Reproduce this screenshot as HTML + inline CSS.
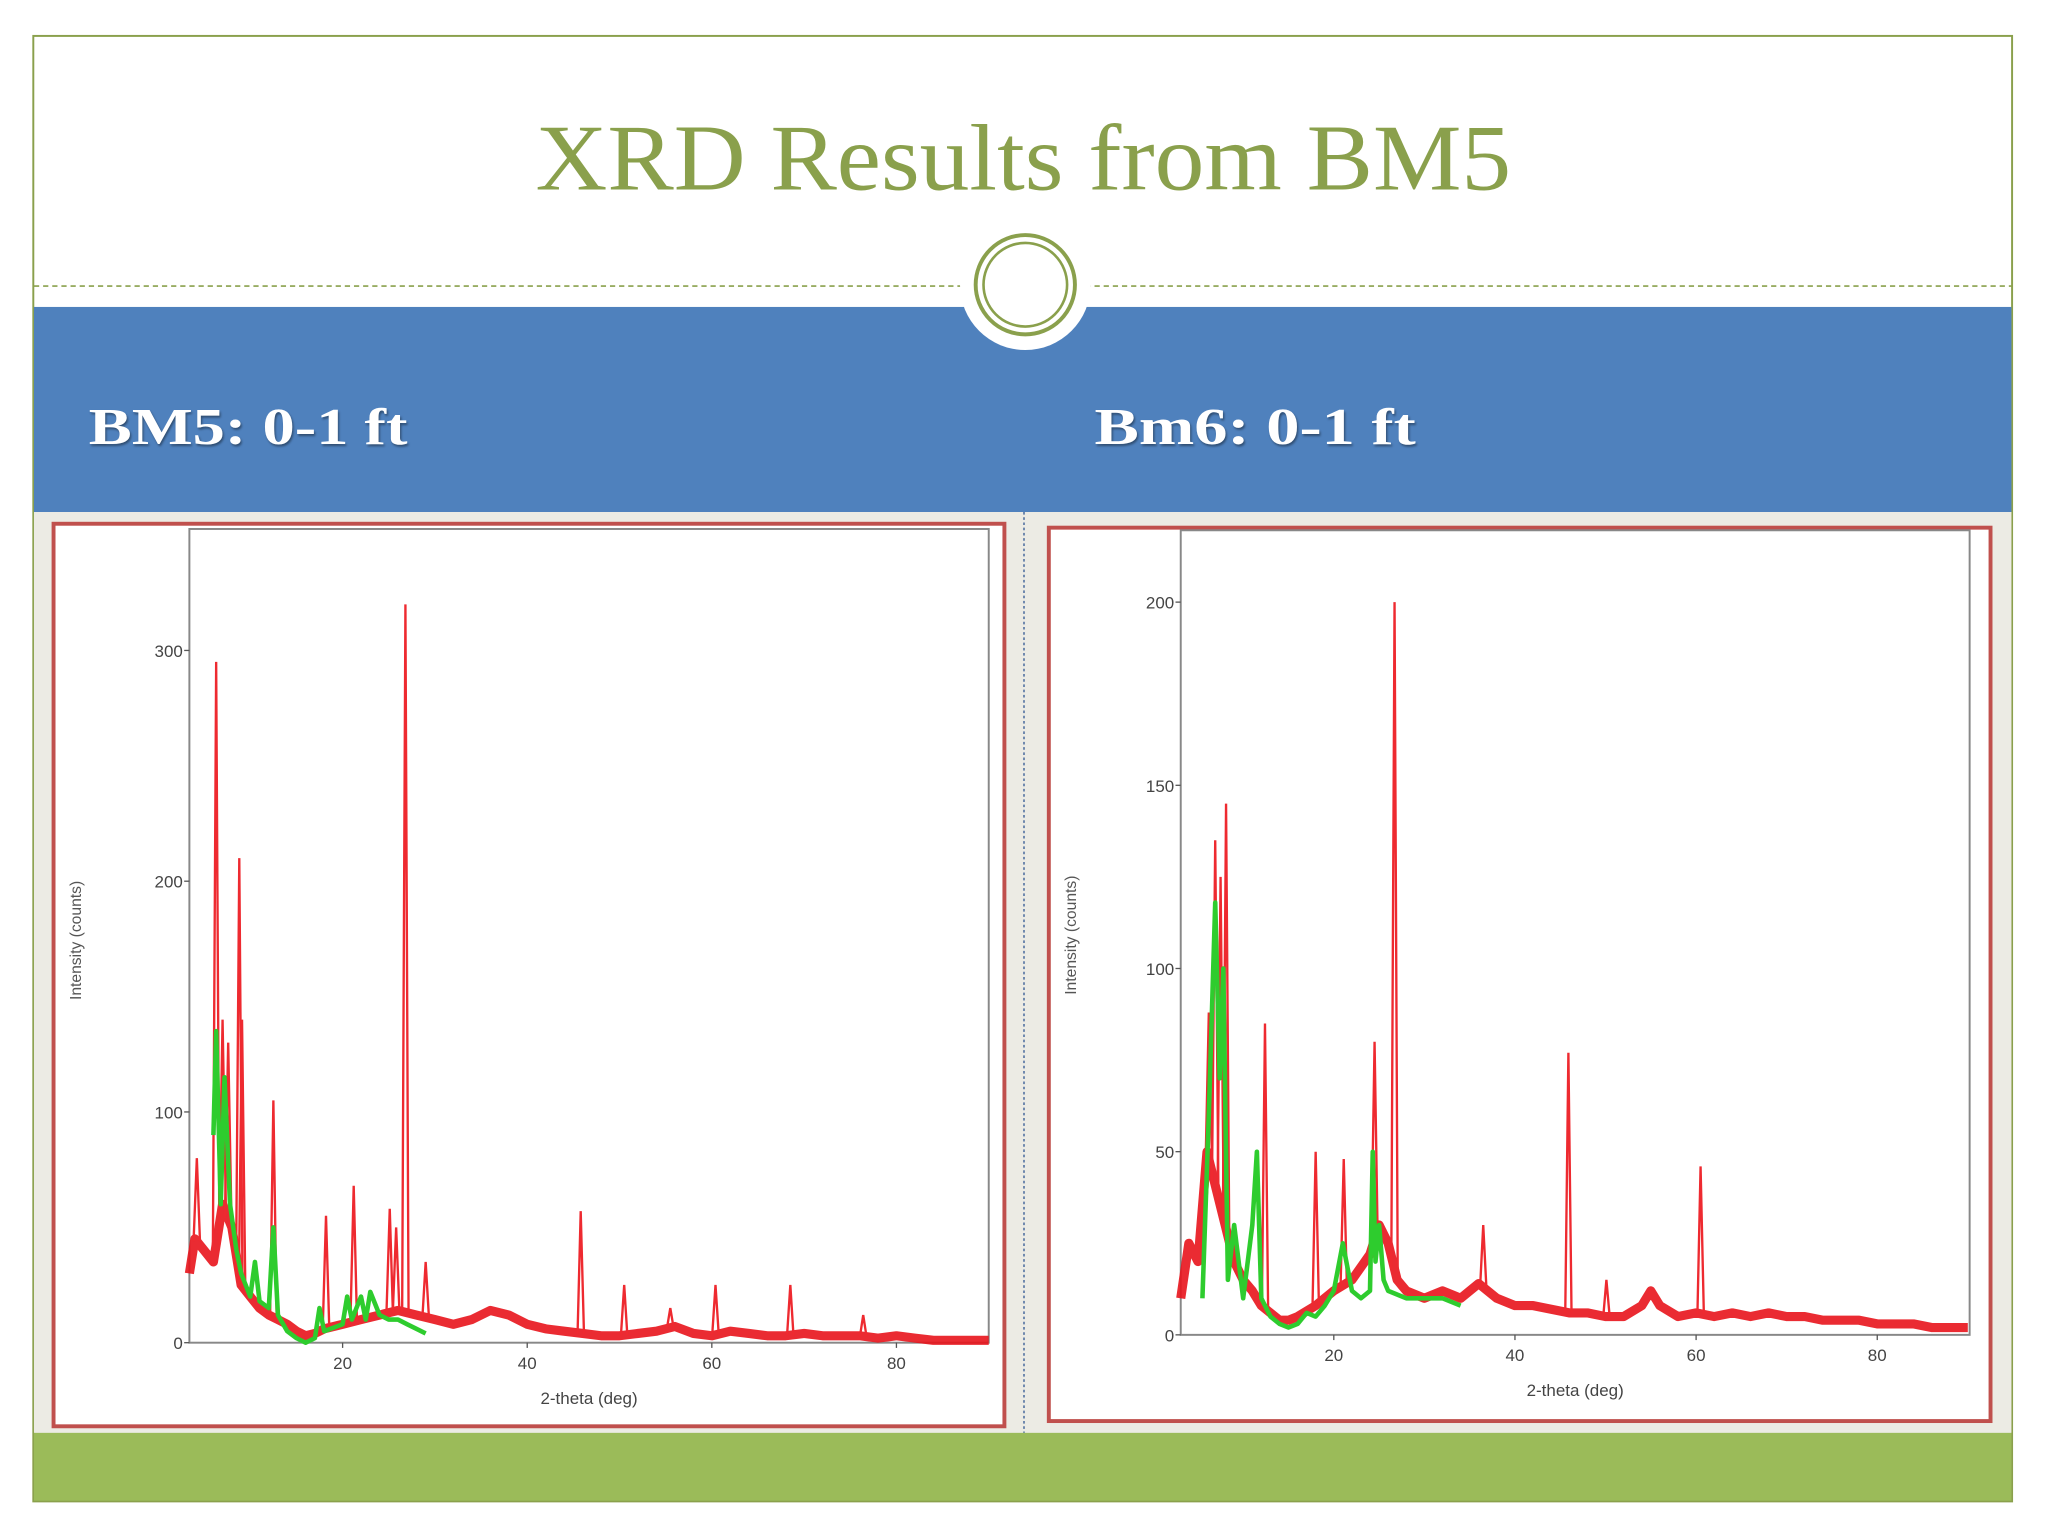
<!DOCTYPE html>
<html><head><meta charset="utf-8">
<style>
html,body{margin:0;padding:0;background:#fff;}
svg{display:block;}
</style></head>
<body>
<svg id="s" width="2048" height="1536" viewBox="0 0 1568 1176" xmlns="http://www.w3.org/2000/svg">
  <rect x="0" y="0" width="1568" height="1176" fill="#fff"/>
  <rect x="25.5" y="27.5" width="1515" height="1122" fill="#fff" stroke="#8aa04c" stroke-width="1.5"/>
  <text x="410" y="145" textLength="747" lengthAdjust="spacingAndGlyphs" font-family="Liberation Serif, serif" font-size="72" fill="#8aa04c">XRD Results from BM5</text>
  <line x1="26" y1="219" x2="1540" y2="219" stroke="#8aa04c" stroke-width="1.2" stroke-dasharray="4,3"/>
  <rect x="26" y="235" width="1514" height="157" fill="#4f81bd"/>
  <circle cx="785" cy="218" r="50" fill="#fff"/>
  <circle cx="785" cy="218" r="38" fill="none" stroke="#8aa04c" stroke-width="3"/>
  <circle cx="785" cy="218" r="32" fill="none" stroke="#8aa04c" stroke-width="2"/>
  <text x="68" y="340" textLength="244" lengthAdjust="spacingAndGlyphs" font-family="Liberation Serif, serif" font-weight="bold" font-size="40" fill="#fff" style="text-shadow:1px 2px 2px rgba(0,0,0,.4)">BM5: 0-1 ft</text>
  <text x="838" y="340" textLength="246" lengthAdjust="spacingAndGlyphs" font-family="Liberation Serif, serif" font-weight="bold" font-size="40" fill="#fff" style="text-shadow:1px 2px 2px rgba(0,0,0,.4)">Bm6: 0-1 ft</text>
  <rect x="26" y="392" width="1514" height="705" fill="#ecebe4"/>
  <line x1="784" y1="392" x2="784" y2="1097" stroke="#4f6f9f" stroke-width="1.2" stroke-dasharray="2,2"/>
  <rect x="26" y="1097" width="1514" height="52" fill="#9bbb59"/>
  <g id="left">
    <rect x="41" y="401" width="728" height="691" fill="#fff" stroke="#c0504d" stroke-width="3"/>
  </g>
  <g id="right">
    <rect x="803" y="404" width="721" height="684" fill="#fff" stroke="#c0504d" stroke-width="3"/>
  </g>
</svg>
<script>
// ---- Left chart data (BM5) ----
const leftBgX = [3.4,4,5,6,7,8,9,10,11,12,13,14,15,16,17,18,20,22,24,26,28,30,32,34,36,38,40,42,44,46,48,50,52,54,56,58,60,62,64,66,68,70,72,74,76,78,80,82,84,86,88,90];
const leftBgY = [30,45,40,35,60,50,25,20,15,12,10,8,5,3,4,6,8,10,12,14,12,10,8,10,14,12,8,6,5,4,3,3,4,5,7,4,3,5,4,3,3,4,3,3,3,2,3,2,1,1,1,1];
const leftPeakX = [4.2,6.3,7.0,7.6,8.8,9.1,12.5,18.2,21.2,25.1,25.8,26.8,29.0,45.8,50.5,55.5,60.4,68.5,76.4];
const leftPeakY = [80,295,140,130,210,140,105,55,68,58,50,320,35,57,25,15,25,25,12];
const leftGreenX = [6,6.3,6.8,7.2,7.8,8.5,9,10,10.5,11,12,12.5,13,14,15,16,17,17.5,18,20,20.5,21,22,22.5,23,24,25,26,27,28,29];
const leftGreenY = [90,135,60,115,60,40,30,20,35,18,15,50,12,5,2,0,2,15,5,8,20,10,20,10,22,12,10,10,8,6,4];
const leftYTicks = [0,100,200,300];
const leftXTicks = [20,40,60,80];

// ---- Right chart data (Bm6) ----
const rightBgX = [3.1,4,5,6,7,8,9,10,11,12,13,14,15,16,18,20,22,24,25,26,27,28,30,32,34,36,38,40,42,44,46,48,50,52,54,55,56,58,60,62,64,66,68,70,72,74,76,78,80,82,84,86,88,90];
const rightBgY = [10,25,20,50,40,30,20,15,12,8,6,4,4,5,8,12,15,22,30,25,15,12,10,12,10,14,10,8,8,7,6,6,5,5,8,12,8,5,6,5,6,5,6,5,5,4,4,4,3,3,3,2,2,2];
const rightPeakX = [6.2,6.9,7.5,8.1,12.4,18.0,21.1,24.5,26.7,36.5,45.9,50.1,60.5];
const rightPeakY = [88,135,125,145,85,50,48,80,200,30,77,15,46];
const rightGreenX = [5.5,6.2,6.9,7.4,7.8,8.3,9,10,11,11.5,12,13,14,15,16,17,18,19,20,21,22,23,24,24.3,24.6,25,25.5,26,28,30,32,34];
const rightGreenY = [10,60,118,70,100,15,30,10,30,50,10,5,3,2,3,6,5,8,12,25,12,10,12,50,20,30,15,12,10,10,10,8];
const rightYTicks = [0,50,100,150,200];
const rightXTicks = [20,40,60,80];

const NS = 'http://www.w3.org/2000/svg';
function mk(tag, attrs, parent) {
  const e = document.createElementNS(NS, tag);
  for (const k in attrs) e.setAttribute(k, attrs[k]);
  parent.appendChild(e);
  return e;
}
function bgAt(bx, by, x) {
  for (let i = 0; i < bx.length - 1; i++) {
    if (x >= bx[i] && x <= bx[i+1]) {
      const t = (x - bx[i]) / (bx[i+1] - bx[i]);
      return by[i] + t * (by[i+1] - by[i]);
    }
  }
  return by[by.length-1];
}
function drawChart(g, cfg) {
  const sx = v => cfg.px0 + (v - cfg.x0) * (cfg.px1 - cfg.px0) / (cfg.x1 - cfg.x0);
  const sy = v => cfg.py0 - v * (cfg.py0 - cfg.pyTop) / cfg.yTop;
  const frame = mk('rect', {x: cfg.px0, y: cfg.frameTop, width: cfg.px1 - cfg.px0, height: cfg.py0 - cfg.frameTop, fill: 'none', stroke: '#888', 'stroke-width': 1.5}, g);
  
  
  let d = '';
  cfg.bx.forEach((x, i) => { d += (i ? 'L' : 'M') + sx(x).toFixed(1) + ',' + sy(cfg.by[i]).toFixed(1); });
  const bgp = mk('path', {d: d, fill: 'none', stroke: '#e8141c', 'stroke-width': 7, 'stroke-linejoin': 'round', opacity: 0.9}, g);
  
  
  cfg.pkx.forEach((x, i) => {
    const b = bgAt(cfg.bx, cfg.by, x);
    const pd = 'M' + sx(x - 0.35).toFixed(1) + ',' + sy(b).toFixed(1) + 'L' + sx(x).toFixed(1) + ',' + sy(cfg.pky[i]).toFixed(1) + 'L' + sx(x + 0.35).toFixed(1) + ',' + sy(b).toFixed(1);
    const p = mk('path', {d: pd, fill: 'none', stroke: '#ee2a30', 'stroke-width': 1.8}, g);
    
    
  });
  let gd = '';
  cfg.gx.forEach((x, i) => { gd += (i ? 'L' : 'M') + sx(x).toFixed(1) + ',' + sy(cfg.gy[i]).toFixed(1); });
  const gp = mk('path', {d: gd, fill: 'none', stroke: '#2ecc2e', 'stroke-width': 3.5, 'stroke-linejoin': 'round'}, g);
  
  
  cfg.yt.forEach(v => {
    mk('line', {x1: cfg.px0 - 4, x2: cfg.px0, y1: sy(v), y2: sy(v), stroke: '#555', 'stroke-width': 1}, g);
    const t = mk('text', {x: cfg.px0 - 5, y: sy(v) + 5, 'text-anchor': 'end', 'font-family': 'Liberation Sans, sans-serif', 'font-size': 13, fill: '#444'}, g);
    t.textContent = v;
    
    
  });
  cfg.xt.forEach(v => {
    mk('line', {x1: sx(v), x2: sx(v), y1: cfg.py0, y2: cfg.py0 + 4, stroke: '#555', 'stroke-width': 1}, g);
    const t = mk('text', {x: sx(v), y: cfg.py0 + 20, 'text-anchor': 'middle', 'font-family': 'Liberation Sans, sans-serif', 'font-size': 13, fill: '#444'}, g);
    t.textContent = v;
    
    
  });
  const xt = mk('text', {x: (cfg.px0 + cfg.px1) / 2, y: cfg.py0 + 47, 'text-anchor': 'middle', 'font-family': 'Liberation Sans, sans-serif', 'font-size': 13, fill: '#444'}, g);
  xt.textContent = '2-theta (deg)';
  
  
  const yt = mk('text', {x: 0, y: 0, 'text-anchor': 'middle', 'font-family': 'Liberation Sans, sans-serif', 'font-size': 12, fill: '#555', transform: 'translate(' + cfg.ytx + ',' + cfg.yty + ') rotate(-90)'}, g);
  yt.textContent = 'Intensity (counts)';
  
  
}
drawChart(document.getElementById('left'), {
  px0: 145, px1: 757, x0: 3.4, x1: 90, py0: 1028, pyTop: 498, yTop: 300, frameTop: 405,
  bx: leftBgX, by: leftBgY, pkx: leftPeakX, pky: leftPeakY, gx: leftGreenX, gy: leftGreenY,
  yt: leftYTicks, xt: leftXTicks, ytx: 62, yty: 720
});
drawChart(document.getElementById('right'), {
  px0: 904, px1: 1508, x0: 3.1, x1: 90.2, py0: 1022, pyTop: 461, yTop: 200, frameTop: 406,
  bx: rightBgX, by: rightBgY, pkx: rightPeakX, pky: rightPeakY, gx: rightGreenX, gy: rightGreenY,
  yt: rightYTicks, xt: rightXTicks, ytx: 824, yty: 716
});
</script>
</body></html>
